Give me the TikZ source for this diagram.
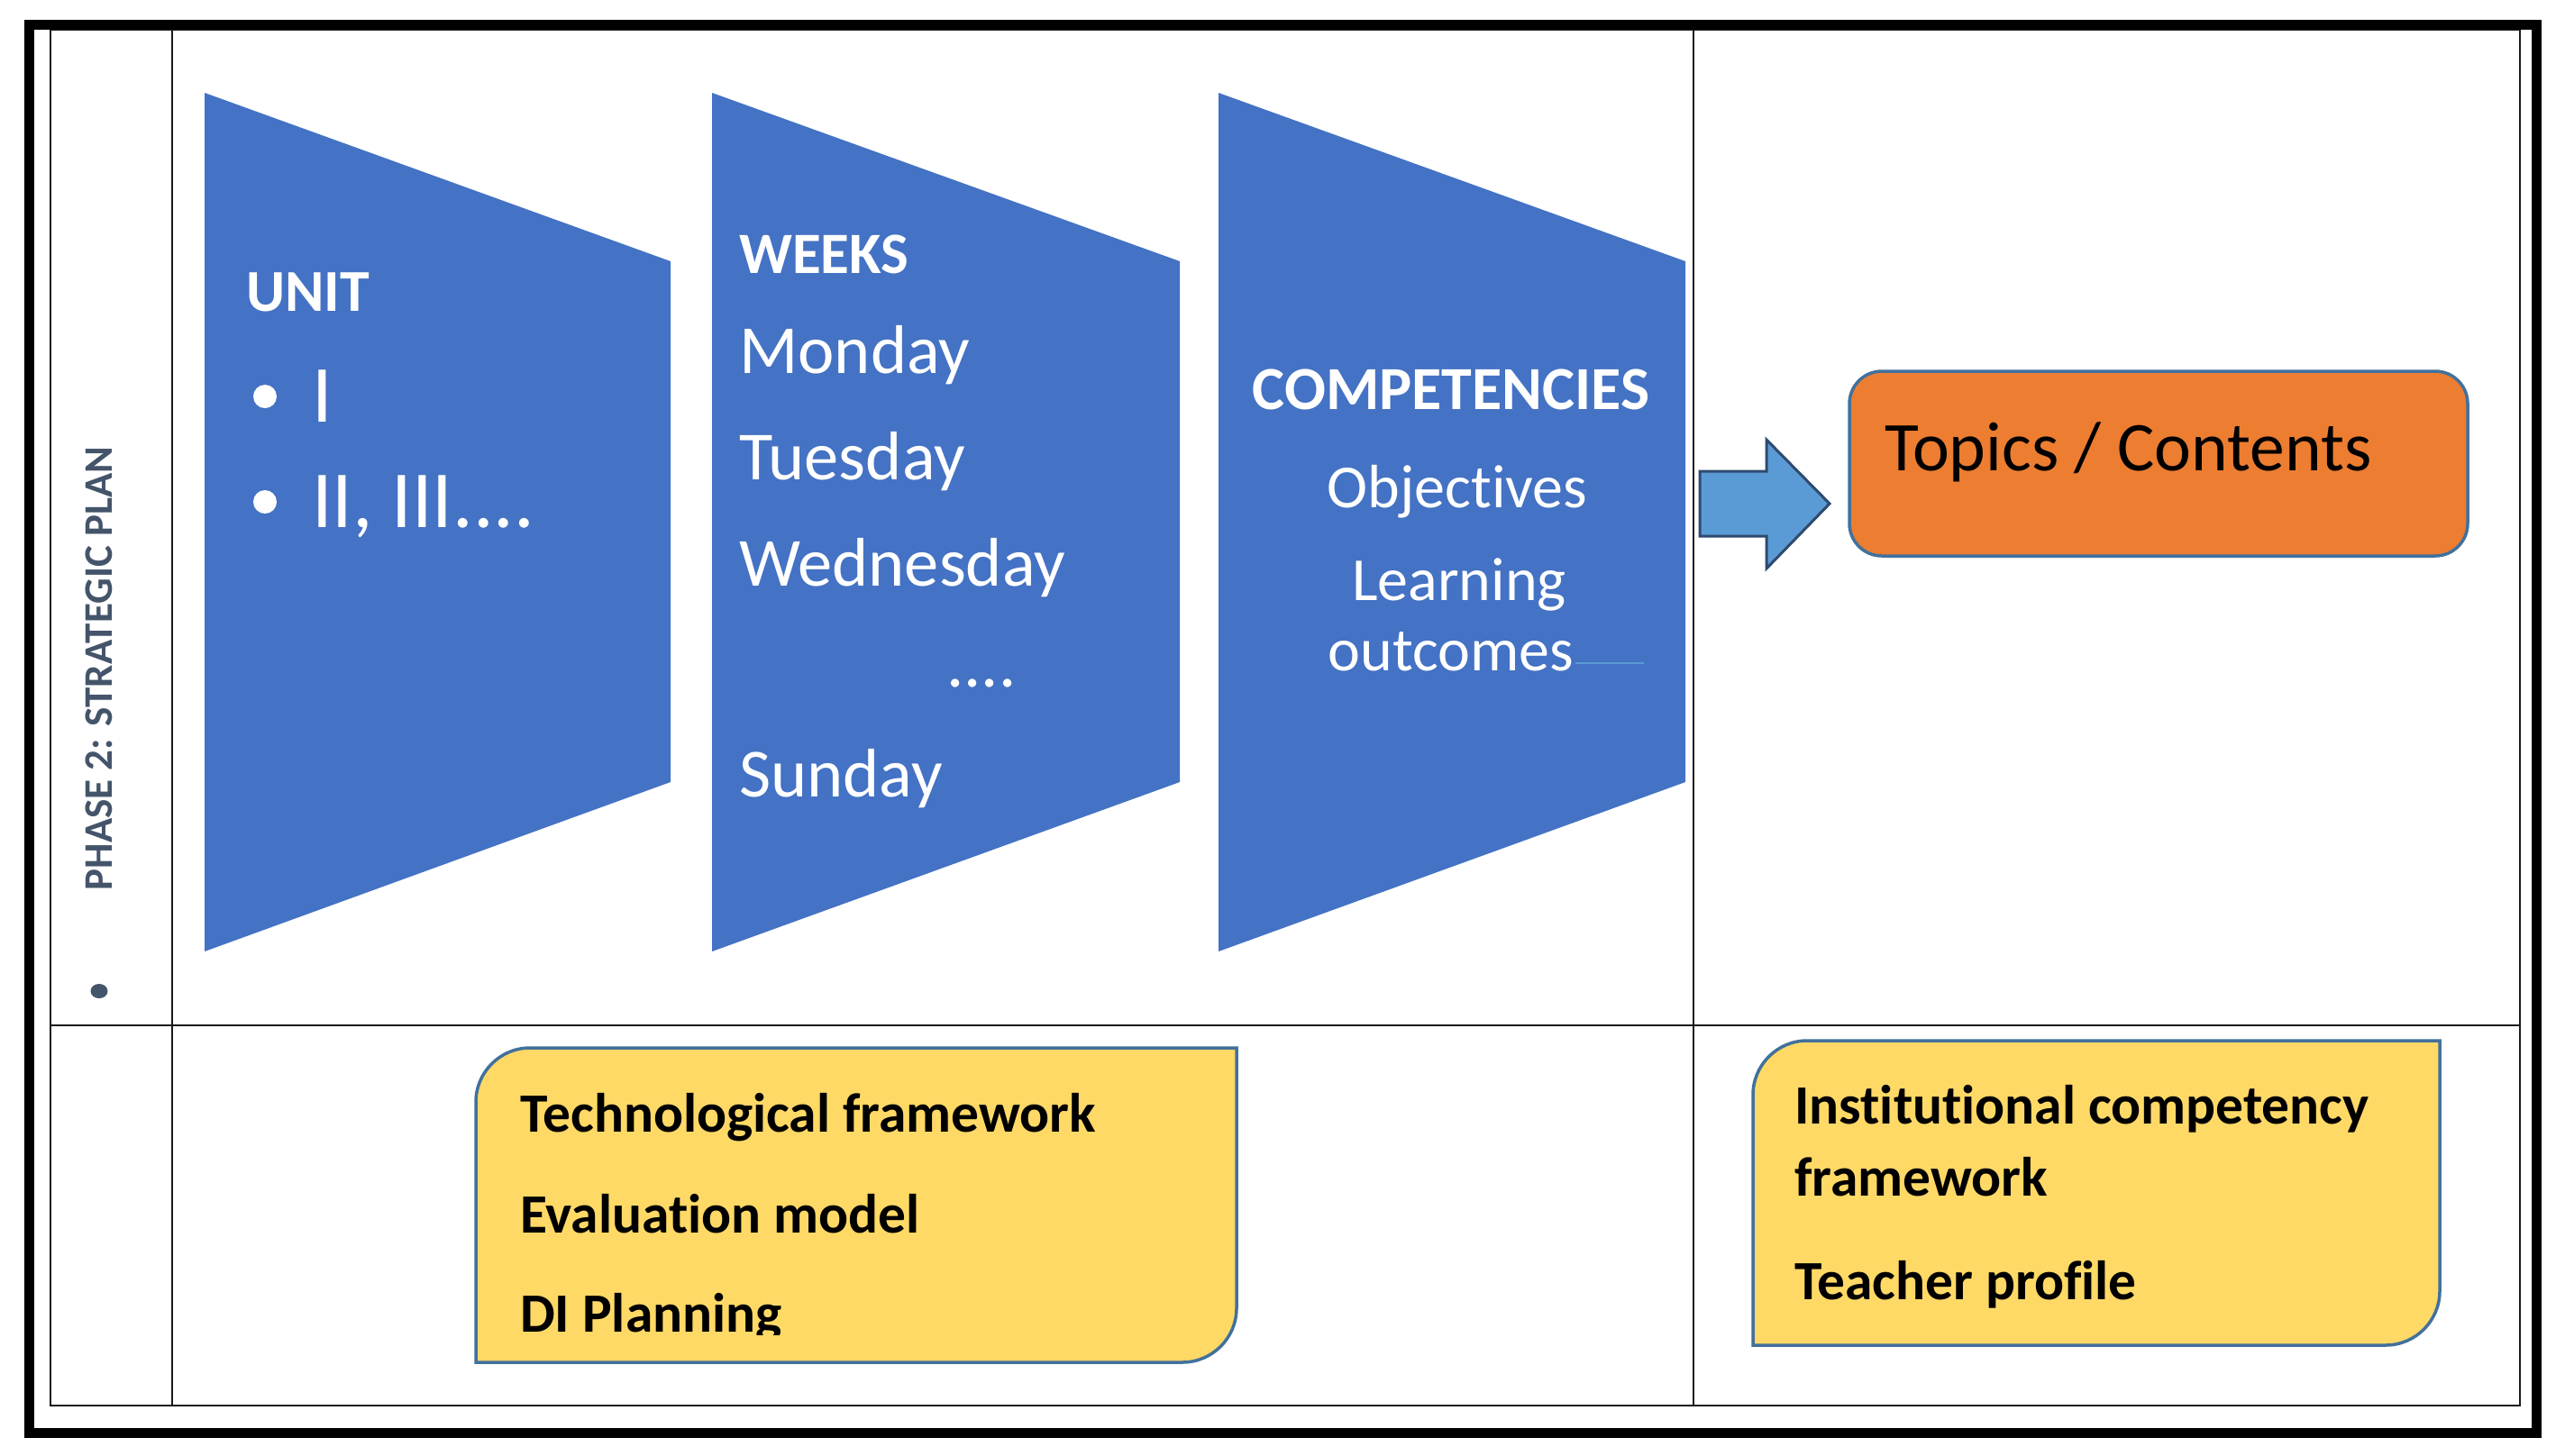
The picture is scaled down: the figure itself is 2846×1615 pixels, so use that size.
\documentclass[tikz,border=0pt]{standalone}
\usepackage{fontspec}
\setmainfont[Ligatures={NoCommon,NoContextual},Contextuals={NoAlternate}]{Carlito}
\newcommand\setfs[1]{\fontsize{#1}{#1}\selectfont}
\definecolor{trapblue}{HTML}{4472C4}
\definecolor{arrowblue}{HTML}{5B9BD5}
\definecolor{arrowedge}{HTML}{2E4A6E}
\definecolor{boxedge}{HTML}{41719C}
\definecolor{orangefill}{HTML}{ED7D31}
\definecolor{yellowfill}{HTML}{FFD966}
\definecolor{phasecol}{HTML}{44546A}
\definecolor{gridcol}{HTML}{1A1A1A}
\tikzset{
  trap/.style={fill=trapblue, draw=none},
  wtxt/.style={text=white, inner sep=0pt, anchor=base west},
  wctr/.style={text=white, inner sep=0pt, anchor=base},
  btxt/.style={text=black, inner sep=0pt, anchor=base west, font=\bfseries\setfs{61.5}},
  gridline/.style={draw=gridcol, line width=2pt},
  yelbox/.style={fill=yellowfill, draw=boxedge, line width=3.5pt},
}
\begin{document}
\begin{tikzpicture}[x=1pt,y=-1pt]
\useasboundingbox (0,0) rectangle (2846,1615);
\fill[white] (0,0) rectangle (2846,1615);

% table grid
\coordinate (gTL) at (56,33);
\coordinate (gTR) at (2796,33);
\coordinate (gBL) at (56,1560);
\coordinate (gBR) at (2796,1560);
\coordinate (c1t) at (191,33);  \coordinate (c1b) at (191,1560);
\coordinate (c2t) at (1879,33); \coordinate (c2b) at (1879,1560);
\coordinate (rl) at (56,1138);  \coordinate (rr) at (2796,1138);
\draw[gridline] (gTL) rectangle (gBR);
\draw[gridline] (c1t) -- (c1b);
\draw[gridline] (c2t) -- (c2b);
\draw[gridline] (rl) -- (rr);

% trapezoids
\fill[trap] (227,103) -- (744,290) -- (744,868) -- (227,1056) -- cycle;
\fill[trap] (790,103) -- (1309,290) -- (1309,868) -- (790,1056) -- cycle;
\fill[trap] (1352,103) -- (1870,290) -- (1870,868) -- (1352,1056) -- cycle;

% unit text
\node[wtxt, font=\bfseries\setfs{66}] (unit) at (273,345) {UNIT};
\fill[white] (294,440) circle (13) node (b1) {};
\fill[white] (294,557) circle (13) node (b2) {};
\node[wtxt, font=\setfs{90}] (u1) at (346,468) {I};
\node[wtxt, font=\setfs{90}] (u2) at (346,585) {II, III....};

% weeks text
\node[wtxt, font=\bfseries\setfs{65}] (weeks) at (820,303) {WEEKS};
\node[wtxt, font=\setfs{76.5}] (mon) at (820,414) {Monday};
\node[wtxt, font=\setfs{76.5}] (tue) at (820,532) {Tuesday};
\node[wtxt, font=\setfs{76.5}] (wed) at (820,650) {Wednesday};
\node[wtxt, font=\setfs{76.5}] (dots) at (1050,762) {....};
\node[wtxt, font=\setfs{76.5}] (sun) at (820,884) {Sunday};

% competencies text
\node[wctr, font=\bfseries\setfs{68}] (comp) at (1610,454) {COMPETENCIES};
\node[wctr, font=\setfs{68}] (obj) at (1617,563) {Objectives};
\node[wctr, font=\setfs{68}] (learn) at (1619,666) {Learning};
\node[wctr, font=\setfs{68}] (outc) at (1610,744) {outcomes};
\coordinate (ulA) at (1748,736);
\coordinate (ulB) at (1824,736);
\draw[arrowblue, line width=1.5pt] (ulA) -- (ulB);

% block arrow
\draw[fill=arrowblue, draw=arrowedge, line width=3pt, line join=miter]
  (1886,523) -- (1960,523) -- (1960,488) -- (2030,559) -- (1960,631) -- (1960,595) -- (1886,595) -- cycle;

% topics box
\draw[fill=orangefill, draw=boxedge, line width=3.5pt, rounded corners=36pt]
  (2052,412) rectangle (2738,617);
\node[text=black, inner sep=0pt, anchor=base west, font=\setfs{77.5}] (topics) at (2091,522) {Topics / Contents};

% yellow boxes
\draw[yelbox] (528,1512) -- (528,1223) .. controls (528,1190) and (555,1163) .. (588,1163)
  -- (1372,1163) -- (1372,1452) .. controls (1372,1485) and (1345,1512) .. (1312,1512) -- cycle;
\node[btxt] (tech) at (577,1256) {Technological framework};
\node[btxt] (eval) at (577,1368) {Evaluation model};
\begin{scope}
  \clip (540,1380) rectangle (1360,1481);
  \node[btxt] (di) at (577,1478) {DI Planning};
\end{scope}

\draw[yelbox] (1945,1493) -- (1945,1215) .. controls (1945,1182) and (1972,1155) .. (2005,1155)
  -- (2707,1155) -- (2707,1433) .. controls (2707,1466) and (2680,1493) .. (2647,1493) -- cycle;
\node[btxt] (inst) at (1991,1247) {Institutional competency};
\node[btxt] (fw) at (1991,1327) {framework};
\node[btxt] (teach) at (1991,1442) {Teacher profile};

% phase label
\node[text=phasecol, inner sep=0pt, rotate=90, font=\bfseries\setfs{45}] (phase) at (110,742) {PHASE 2: STRATEGIC PLAN};
\fill[phasecol] (110,1100) ellipse (9.5 and 8) node (pdot) {};

% outer frame
\draw[black, line width=11pt, line join=miter] (32.5,27.5) rectangle (2814.5,1590.5);
\end{tikzpicture}
\end{document}
